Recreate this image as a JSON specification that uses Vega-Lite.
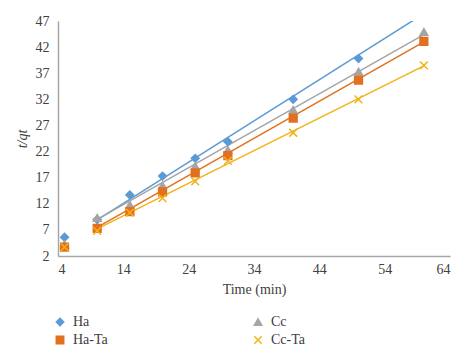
{
  "$schema": "https://vega.github.io/schema/vega-lite/v6.json",
  "autosize": {"type": "none"},
  "width": 392,
  "height": 235,
  "padding": {"left": 58, "top": 21, "right": 24, "bottom": 105},
  "background": "white",
  "config": {
    "view": {"stroke": null},
    "font": "Liberation Serif",
    "axis": {"labelFont": "Liberation Serif", "titleFont": "Liberation Serif", "labelFontSize": 14, "titleFontSize": 14, "labelColor": "#404040", "titleColor": "#404040", "titleFontWeight": "normal", "grid": false, "ticks": false, "domainColor": "#a6a6a6", "domainWidth": 1.5, "labelOverlap": false},
    "legend": {"labelFont": "Liberation Serif", "labelFontSize": 14, "labelColor": "#404040"}
  },
  "datasets": {
    "points": [
      {"series": "Ha", "x": 5, "y": 5.6},
      {"series": "Ha", "x": 10, "y": 9.0},
      {"series": "Ha", "x": 15, "y": 13.7},
      {"series": "Ha", "x": 20, "y": 17.3},
      {"series": "Ha", "x": 25, "y": 20.7},
      {"series": "Ha", "x": 30, "y": 23.9},
      {"series": "Ha", "x": 40, "y": 32.0},
      {"series": "Ha", "x": 50, "y": 39.8},
      {"series": "Cc", "x": 5, "y": 4.2},
      {"series": "Cc", "x": 10, "y": 9.3},
      {"series": "Cc", "x": 15, "y": 11.8},
      {"series": "Cc", "x": 20, "y": 15.5},
      {"series": "Cc", "x": 25, "y": 19.2},
      {"series": "Cc", "x": 30, "y": 22.3},
      {"series": "Cc", "x": 40, "y": 30.0},
      {"series": "Cc", "x": 50, "y": 37.3},
      {"series": "Cc", "x": 60, "y": 44.9},
      {"series": "Ha-Ta", "x": 5, "y": 3.7},
      {"series": "Ha-Ta", "x": 10, "y": 7.3},
      {"series": "Ha-Ta", "x": 15, "y": 10.5},
      {"series": "Ha-Ta", "x": 20, "y": 14.3},
      {"series": "Ha-Ta", "x": 25, "y": 17.9},
      {"series": "Ha-Ta", "x": 30, "y": 21.2},
      {"series": "Ha-Ta", "x": 40, "y": 28.4},
      {"series": "Ha-Ta", "x": 50, "y": 35.7},
      {"series": "Ha-Ta", "x": 60, "y": 43.1},
      {"series": "Cc-Ta", "x": 5, "y": 3.7},
      {"series": "Cc-Ta", "x": 10, "y": 6.8},
      {"series": "Cc-Ta", "x": 15, "y": 10.3},
      {"series": "Cc-Ta", "x": 20, "y": 13.1},
      {"series": "Cc-Ta", "x": 25, "y": 16.3},
      {"series": "Cc-Ta", "x": 30, "y": 20.2},
      {"series": "Cc-Ta", "x": 40, "y": 25.6},
      {"series": "Cc-Ta", "x": 50, "y": 32.0},
      {"series": "Cc-Ta", "x": 60, "y": 38.5}
    ],
    "lines": [
      {"series": "Ha", "x": 10, "y": 8.9},
      {"series": "Ha", "x": 60, "y": 48.4},
      {"series": "Cc", "x": 10, "y": 9.0},
      {"series": "Cc", "x": 60, "y": 44.4},
      {"series": "Ha-Ta", "x": 10, "y": 7.5},
      {"series": "Ha-Ta", "x": 60, "y": 43.0},
      {"series": "Cc-Ta", "x": 10, "y": 7.2},
      {"series": "Cc-Ta", "x": 60, "y": 38.4}
    ]
  },
  "encoding": {
    "x": {"field": "x", "type": "quantitative", "scale": {"domain": [4, 64]}, "axis": {"values": [4, 14, 24, 34, 44, 54, 64], "title": "Time (min)", "labelPadding": 6, "titlePadding": 6, "labelFontSize": 14, "titleFontSize": 14}},
    "y": {"field": "y", "type": "quantitative", "scale": {"domain": [2, 47]}, "axis": {"values": [2, 7, 12, 17, 22, 27, 32, 37, 42, 47], "title": "t/qt", "titleFontStyle": "italic", "labelPadding": 9, "titlePadding": 6, "labelFontSize": 14, "titleFontSize": 14, "labelOverlap": false}}
  },
  "layer": [
    {
      "data": {"name": "lines"},
      "mark": {"type": "line", "clip": true, "strokeWidth": 1.5},
      "encoding": {
        "color": {"field": "series", "type": "nominal", "scale": {"domain": ["Ha", "Ha-Ta", "Cc", "Cc-Ta"], "range": ["#5B9BD5", "#E2701F", "#A5A5A5", "#F2B21A"]}},
        "detail": {"field": "series"}
      }
    },
    {
      "data": {"name": "points"},
      "mark": {"type": "point", "filled": true, "opacity": 1, "strokeWidth": 1.5, "size": 60, "clip": true},
      "encoding": {
        "color": {"field": "series", "type": "nominal", "title": null, "scale": {"domain": ["Ha", "Ha-Ta", "Cc", "Cc-Ta"], "range": ["#5B9BD5", "#E2701F", "#A5A5A5", "#F2B21A"]}, "legend": {"orient": "none", "legendX": -5, "legendY": 294, "columns": 2, "columnPadding": 143, "rowPadding": 4, "symbolSize": 55, "labelFontSize": 14, "labelOffset": 6, "title": null}},
        "stroke": {"field": "series", "type": "nominal", "title": null, "scale": {"domain": ["Ha", "Ha-Ta", "Cc", "Cc-Ta"], "range": ["#5B9BD5", "#E2701F", "#A5A5A5", "#F2B21A"]}},
        "shape": {"field": "series", "type": "nominal", "title": null, "scale": {"domain": ["Ha", "Ha-Ta", "Cc", "Cc-Ta"], "range": ["diamond", "square", "triangle-up", "M-1,-1L1,1M-1,1L1,-1"]}}
      }
    }
  ],
  "resolve": {"scale": {"color": "shared"}}
}
